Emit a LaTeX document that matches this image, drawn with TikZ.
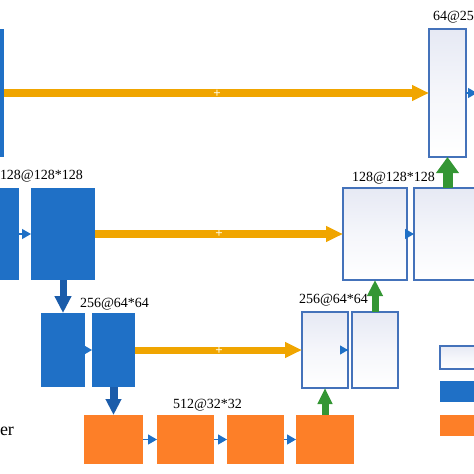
\documentclass[tikz,border=0pt]{standalone}
\usepackage{fontspec}
\setmainfont{Liberation Serif}
\usetikzlibrary{arrows.meta}
\definecolor{encblue}{RGB}{31,112,198}
\definecolor{dkblue}{RGB}{27,92,170}
\definecolor{orng}{RGB}{253,127,40}
\definecolor{gold}{RGB}{240,165,0}
\definecolor{grn}{RGB}{52,150,52}
\definecolor{edgeblue}{RGB}{68,114,186}
\definecolor{shadetop}{RGB}{230,233,244}
\begin{document}
\begin{tikzpicture}[x=1pt,y=-1pt,
  every node/.style={inner sep=0pt,outer sep=0pt},
  bluebox/.style={fill=encblue,anchor=north west},
  orbox/.style={fill=orng,anchor=north west},
  hollow/.style={draw=edgeblue,line width=1.3pt,top color=shadetop,bottom color=white,middle color=white!60!shadetop,anchor=north west},
  skip/.style={draw=gold,line width=8pt,-{Triangle[length=17pt,width=15pt]}},
  upgrn/.style={draw=grn,-{Triangle[length=16pt,width=#1]}},
  downblue/.style={draw=dkblue,line width=7pt,-{Triangle[length=17pt,width=16pt]}},
  smalltri/.style={draw=encblue,fill=encblue,line width=1.2pt,-{Triangle[length=9pt,width=10pt]}},
  plus/.style={text=white!90!yellow,font=\fontsize{13}{13}\selectfont\bfseries},
  lbl/.style={anchor=base west,font=\fontsize{14}{16}\selectfont}
]
\useasboundingbox (0,0) rectangle (474,474);
% encoder boxes
\node[bluebox,minimum width=24pt,minimum height=128pt] (L1) at (-20,29) {};
\node[bluebox,minimum width=59pt,minimum height=92pt] (L2a) at (-40,188) {};
\node[bluebox,minimum width=64pt,minimum height=92pt] (L2b) at (31,188) {};
\node[bluebox,minimum width=44pt,minimum height=74pt] (C) at (41,313) {};
\node[bluebox,minimum width=43pt,minimum height=74pt] (D) at (92,313) {};
% bottleneck
\node[orbox,minimum width=59pt,minimum height=49pt] (O1) at (84,415) {};
\node[orbox,minimum width=57pt,minimum height=49pt] (O2) at (157,415) {};
\node[orbox,minimum width=57pt,minimum height=49pt] (O3) at (227,415) {};
\node[orbox,minimum width=58pt,minimum height=49pt] (O4) at (296,415) {};
% decoder boxes
\node[hollow,minimum width=46pt,minimum height=76pt] (E) at (302,312) {};
\node[hollow,minimum width=46pt,minimum height=76pt] (F) at (352,312) {};
\node[hollow,minimum width=64pt,minimum height=92pt] (A) at (343,188) {};
\node[hollow,minimum width=86pt,minimum height=92pt] (B) at (414,188) {};
\node[hollow,minimum width=37pt,minimum height=128pt] (T) at (429,29) {};
% legend
\node[hollow,minimum width=50pt,minimum height=23pt] (LG1) at (440,346) {};
\node[bluebox,minimum width=50pt,minimum height=21pt] (LG2) at (440,381) {};
\node[orbox,minimum width=50pt,minimum height=21pt] (LG3) at (440,415) {};
% labels
\node[lbl] (t1) at (433,20) {64@25};
\node[lbl] (t2) at (0,179) {128@128*128};
\node[lbl] (t3) at (352,181) {128@128*128};
\node[lbl] (t4) at (80,307) {256@64*64};
\node[lbl] (t5) at (299,303) {256@64*64};
\node[lbl] (t6) at (173,408) {512@32*32};
\node[lbl,font=\fontsize{18}{20}\selectfont] (t7) at (0,435) {er};
% skip connections
\draw[skip] (L1.east) -- (T.west);
\draw[skip] (L2b.east) -- (A.west);
\draw[skip,line width=7pt] (D.east) -- (E.west);
\node[plus] (p1) at (217,93.5) {+};
\node[plus] (p2) at (219,234) {+};
\node[plus] (p3) at (219,350.5) {+};
% up arrows
\draw[upgrn=22pt,line width=10pt] (T.south |- B.north) -- (T.south);
\draw[upgrn=15pt,line width=7pt] (F.north) -- (A.south);
\draw[upgrn=14pt,line width=7pt] (O4.north) -- (E.south);
% down arrows
\draw[downblue] (L2b.south) -- (C.north);
\draw[downblue,line width=8pt,-{Triangle[length=16pt,width=15pt]}] (D.south) -- (O1.north);
% small blue triangles
\coordinate (Tout) at (477,93);
\draw[smalltri] (L2a.east) -- (L2b.west);
\draw[smalltri,-{Triangle[length=8pt,width=9pt]}] (C.east) -- (D.west);
\draw[smalltri] (A.east) -- (B.west);
\draw[smalltri,shorten >=4pt,-{Triangle[length=8pt,width=9pt]}] (E.east) -- (F.west);
\draw[smalltri] (O1.east) -- (O2.west);
\draw[smalltri] (O2.east) -- (O3.west);
\draw[smalltri] (O3.east) -- (O4.west);
\draw[smalltri] (T.east) -- (Tout);
\end{tikzpicture}
\end{document}
